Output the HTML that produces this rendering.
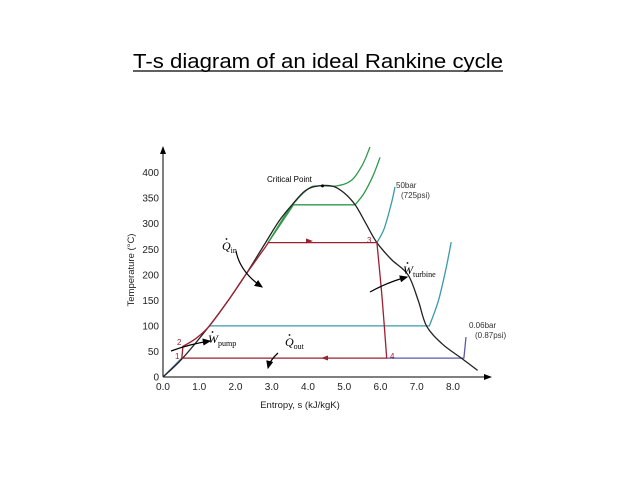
<!DOCTYPE html>
<html><head><meta charset="utf-8"><style>
body{margin:0;background:#fff;width:638px;height:478px;overflow:hidden}
svg{display:block;font-family:"Liberation Sans",sans-serif}
</style></head><body>
<svg id="chart" width="638" height="478">
<text x="133" y="68" font-size="20" textLength="370" lengthAdjust="spacingAndGlyphs" fill="#000">T-s diagram of an ideal Rankine cycle</text>
<line x1="133" y1="71" x2="503" y2="71" stroke="#000" stroke-width="1.2"/>
</svg>
<script>
const xTicks=[0,1,2,3,4,5,6,7,8];
const xTickLabels=["0.0","1.0","2.0","3.0","4.0","5.0","6.0","7.0","8.0"];
const yTicks=[0,50,100,150,200,250,300,350,400];
const domeS=[0,0.52,1.28,1.8,2.28,2.83,3.2,3.56,3.93,4.3,4.7,5.0,5.3,5.6,5.9,6.3,6.76,7.04,7.27,7.7,8.23,8.68];
const domeT=[0,35,100,150,200,263,305,337,365,374,373,360,337,300,263,230,200,150,100,65,37,13];
const cycleS=[0.52,0.55,0.9,1.28,1.8,2.28,2.83,2.9,5.9,6.05,6.17,0.52];
const cycleT=[37,60,75,100,150,200,255,263,263,150,37,37];
const iso1S=[2.9,3.3,3.6,5.3,5.55,5.8,5.99];const iso1T=[263,305,337,337,360,395,430];
const iso2S=[2.9,3.5,4.0,4.3,4.8,5.2,5.5,5.71];const iso2T=[263,330,368,374,374,385,415,450];
const iso3S=[5.9,6.1,6.3,6.4];const iso3T=[263,290,340,372];
const iso4S=[1.28,7.35,7.6,7.8,7.95];const iso4T=[100,100,150,210,264];
const iso5S=[0,0.52];const iso5T=[0,37];
const iso6S=[6.17,8.3,8.36];const iso6T=[37,37,78];
const sx=s=>163+s*36.25, ty=t=>377-t*0.511;
const svg=document.getElementById('chart');const NS='http://www.w3.org/2000/svg';
function mk(tag,a,txt){const e=document.createElementNS(NS,tag);for(const k in a)e.setAttribute(k,a[k]);if(txt!==undefined)e.textContent=txt;svg.appendChild(e);return e;}
// smooth path; segments with horizontal/straight corners keep sharp via breaks
function smooth(S,T,sharp){const P=S.map((s,i)=>[sx(s),ty(T[i])]);let d='M'+P[0][0].toFixed(1)+','+P[0][1].toFixed(1);
for(let i=0;i<P.length-1;i++){const p0=(sharp.includes(i)?P[i]:P[i-1]||P[i]),p1=P[i],p2=P[i+1],p3=(sharp.includes(i+1)?P[i+1]:P[i+2]||P[i+1]);
const c1=[p1[0]+(p2[0]-p0[0])/6,p1[1]+(p2[1]-p0[1])/6],c2=[p2[0]-(p3[0]-p1[0])/6,p2[1]-(p3[1]-p1[1])/6];
d+=' C'+c1.map(v=>v.toFixed(1))+' '+c2.map(v=>v.toFixed(1))+' '+p2[0].toFixed(1)+','+p2[1].toFixed(1);}return d;}
let e=mk('line',{x1:163,y1:377,x2:488,y2:377,stroke:'#000','stroke-width':1});


e=mk('polygon',{points:'492,377 484,374 484,380',fill:'#000'});


e=mk('line',{x1:163,y1:377,x2:163,y2:150,stroke:'#000','stroke-width':1});


e=mk('polygon',{points:'163,146 160,154 166,154',fill:'#000'});


xTicks.forEach((v,i)=>{const t=mk('text',{x:sx(v),y:390,'font-size':10,'text-anchor':'middle',fill:'#222'},xTickLabels[i]);

});
yTicks.forEach(v=>{const t=mk('text',{x:159,y:ty(v)+3.5,'font-size':10,'text-anchor':'end',fill:'#222'},String(v));

});
e=mk('text',{x:300,y:408,'font-size':9.5,'text-anchor':'middle',fill:'#222'},'Entropy, s (kJ/kgK)');


e=mk('text',{x:0,y:0,'font-size':9.5,'text-anchor':'middle',fill:'#222',transform:'translate(134,270) rotate(-90)'},'Temperature (°C)');


const series=[[iso4S,iso4T,'#3a9aa8','isobar-100c',[0,1]],[iso3S,iso3T,'#3a9aa8','isobar-50bar',[0]],[iso5S,iso5T,'#4a7ab8','compressed-liquid-line',[]],[iso6S,iso6T,'#5a5ab0','isobar-006bar',[0,1]],[iso1S,iso1T,'#2e9a4a','isobar-high-1',[2,3]],[iso2S,iso2T,'#2e9a4a','isobar-high-2',[]],[domeS,domeT,'#222','saturation-dome',[0]],[cycleS,cycleT,'#9b2030','rankine-cycle',[0,1,7,8,10,11]]];
series.forEach(([S,T,c,n,sh])=>{const p=mk('path',{d:smooth(S,T,sh),fill:'none',stroke:c,'stroke-width':1.3,'stroke-linejoin':'round'});

});
e=mk('circle',{cx:sx(4.4),cy:ty(374),r:1.5,fill:'#000'});


e=mk('polygon',{points:'313,241 306,238.5 306,243.5',fill:'#9b2030'});


e=mk('polygon',{points:'321,358 328,355.5 328,360.5',fill:'#9b2030'});


const defs=document.createElementNS(NS,'defs');defs.innerHTML='<marker id="ah" markerWidth="7" markerHeight="6" refX="6" refY="3" orient="auto"><path d="M0,0 L7,3 L0,6z" fill="#000"/></marker>';svg.appendChild(defs);
const arrows=[['M236,251 Q240,272 262,287','qin-arrow'],['M370,292 Q388,282 407,277','wturbine-arrow'],['M171,351 Q190,344 210,341','wpump-arrow'],['M278,353 Q270,360 268,368','qout-arrow']];
arrows.forEach(([d,n])=>{const p=mk('path',{d:d,fill:'none',stroke:'#000','stroke-width':1.2,'marker-end':'url(#ah)'});

});
const labels=[[267,182,'Critical Point',8,'#000','critical-point-label'],[396,188,'50bar',8,'#333','label-50bar'],[401,198,'(725psi)',8,'#333','label-725psi'],[469,328,'0.06bar',8,'#333','label-006bar'],[475,338,'(0.87psi)',8,'#333','label-087psi'],[175,359,'1',8,'#9b2030','point-1-label'],[177,345,'2',8,'#9b2030','point-2-label'],[367,243,'3',8,'#9b2030','point-3-label'],[390,359,'4',8,'#9b2030','point-4-label']];
labels.forEach(([x,y,t,f,c,n])=>{const l=mk('text',{x:x,y:y,'font-size':f,fill:c},t);

});
const ql=[[222,250,'Q','in','q-in-label'],[403,274,'W','turbine','w-turbine-label'],[208,343,'W','pump','w-pump-label'],[285,346,'Q','out','q-out-label']];
ql.forEach(([x,y,m,s,n])=>{const g=mk('text',{x:x,y:y,'font-size':12,'font-style':'italic','font-family':'Liberation Serif,serif',fill:'#000'});


g.innerHTML=m+'<tspan dy="3" font-size="8" font-style="normal">'+s+'</tspan>';
const d=mk('circle',{cx:x+4.5,cy:y-11,r:0.9,fill:'#000'});

});
</script>
</body></html>
